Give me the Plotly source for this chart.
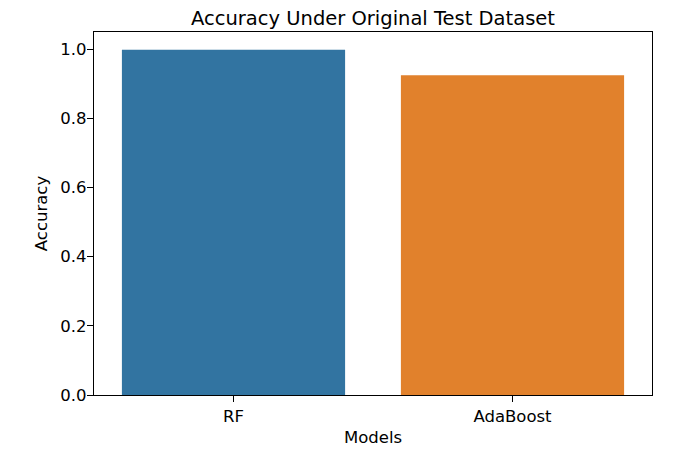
import plotly.graph_objects as go

models = ["RF", "AdaBoost"]
accuracy = [0.999, 0.925]
bar_colors = ["#3274a1", "#e1812c"]
y_ticks = [0.0, 0.2, 0.4, 0.6, 0.8, 1.0]

W, H = 686, 471
OFF = 8  # page body margin
L, R, T, B = 94, 652, 32, 395  # desired plot-area edges on the page

fig = go.Figure()
fig.add_trace(go.Bar(x=models, y=accuracy, marker=dict(color=bar_colors, line=dict(width=0)),
                     width=0.8, showlegend=False))

font = dict(family="DejaVu Sans", size=16.5, color="#000000")
axis_common = dict(showline=True, linecolor="#000000", linewidth=1.3, mirror=True,
                   ticks="outside", ticklen=6, tickwidth=1.3, tickcolor="#000000",
                   showgrid=False, zeroline=False, tickfont=font)

fig.update_layout(
    width=W, height=H,
    margin=dict(l=L - OFF, r=W - (R - OFF), t=T - OFF, b=H - (B - OFF), pad=0),
    plot_bgcolor="white", paper_bgcolor="white",
    font=font,
    title=dict(text="Accuracy Under Original Test Dataset", x=((L + R) / 2 - OFF) / W, xanchor="center",
               y=1 - 3 / H, yanchor="top", xref="container", yref="container",
               font=dict(family="DejaVu Sans", size=19.5, color="#000000")),
    bargap=0.2,
)
fig.update_xaxes(range=[-0.5, 1.5], title=dict(text="Models", font=font, standoff=6), **axis_common)
fig.update_yaxes(range=[0, 1.05], tickvals=y_ticks, tickformat=".1f", ticklabelstandoff=-3,
                 title=dict(text="Accuracy", font=font, standoff=8), **axis_common)

fig.write_html("out.html")
